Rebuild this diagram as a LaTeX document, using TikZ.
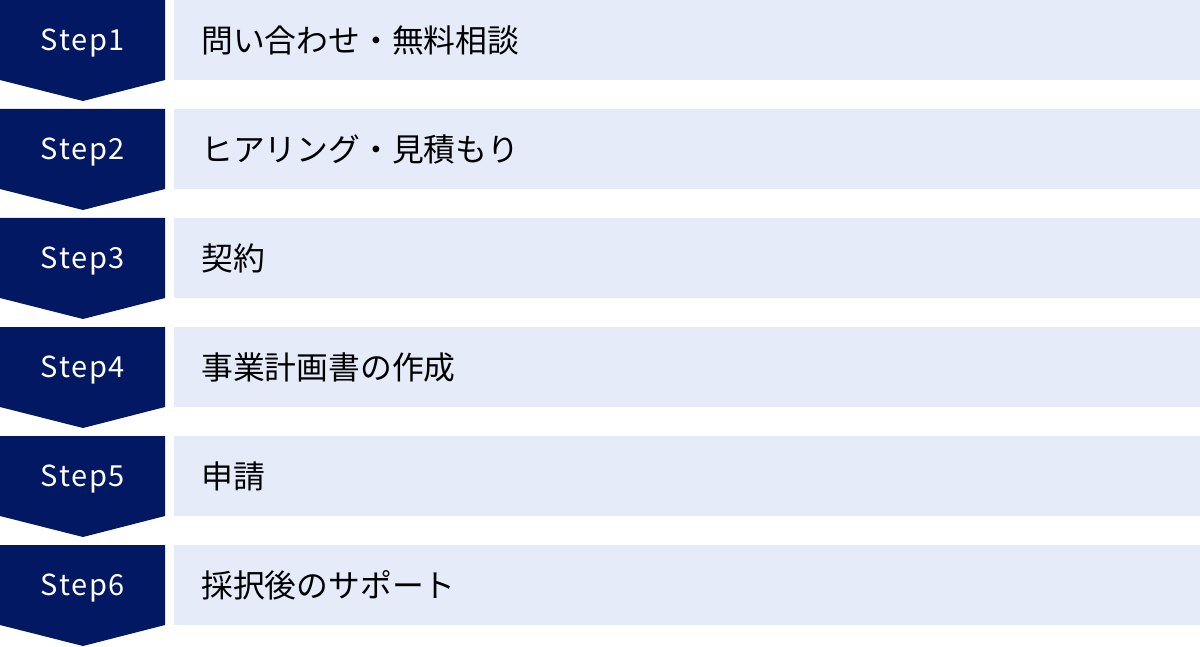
\documentclass[tikz,border=0pt]{standalone}
\usepackage{fontspec}
\newfontfamily\jpfont{Noto Sans CJK JP}
\newfontfamily\stepfont[LetterSpace=6]{Noto Sans CJK JP}
\definecolor{navy}{HTML}{031862}
\definecolor{pale}{HTML}{E5EBF9}
\begin{document}
\begin{tikzpicture}[x=1pt,y=-1pt,
  stepshape/.style={fill=navy,draw=none},
  steplabel/.style={text=white,font=\stepfont\fontsize{29}{31}\selectfont,inner sep=0pt,anchor=center},
  itembox/.style={fill=pale,draw=none},
  itemlabel/.style={text=black,font=\jpfont\fontsize{31.8}{34}\selectfont,inner sep=0pt,anchor=west}]
\useasboundingbox (0,0) rectangle (1200,647);
\foreach \i/\t in {1/問い合わせ・無料相談,2/ヒアリング・見積もり,3/契約,4/事業計画書の作成,5/申請,6/採択後のサポート}{
  \pgfmathsetmacro{\y}{109*(\i-1)}
  \fill[stepshape] (0,\y) -- (165,\y) -- (165,\y+80) -- (83,\y+101) -- (0,\y+80) -- cycle;
  \node[steplabel] (s\i) at (83,\y+43) {Step\i};
  \fill[itembox] (174,\y) rectangle (1200,\y+80);
  \node[itemlabel] (t\i) at (201,\y+40) {\t};
}
\end{tikzpicture}
\end{document}
